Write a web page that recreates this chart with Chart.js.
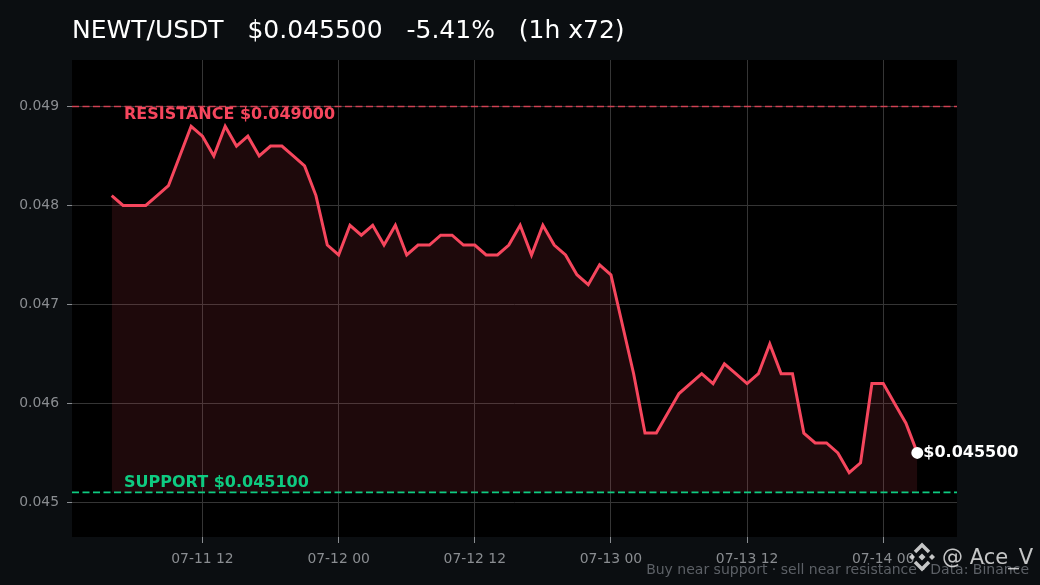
<!DOCTYPE html>
<html>
<head>
<meta charset="utf-8">
<script src="https://cdn.jsdelivr.net/npm/chart.js@4/dist/chart.umd.min.js"></script>
<style>
  html, body { margin: 0; padding: 0; background: #0b0e11; }
  canvas { display: block; }
</style>
</head>
<body>
<canvas id="chart" width="1040" height="585"></canvas>
<script>
/*
    NEWT/USDT hourly close, 72 candles, with support / resistance levels
*/

// hourly closes, first one is 07-11 04:00
const closes = [
    0.0481, 0.0480, 0.0480, 0.0480, 0.0481, 0.0482, 0.0485, 0.0488, 0.0487, 0.0485,
    0.0488, 0.0486, 0.0487, 0.0485, 0.0486, 0.0486, 0.0485, 0.0484, 0.0481, 0.0476,
    0.0475, 0.0478, 0.0477, 0.0478, 0.0476, 0.0478, 0.0475, 0.0476, 0.0476, 0.0477,
    0.0477, 0.0476, 0.0476, 0.0475, 0.0475, 0.0476, 0.0478, 0.0475, 0.0478, 0.0476,
    0.0475, 0.0473, 0.0472, 0.0474, 0.0473, 0.0468, 0.0463, 0.0457, 0.0457, 0.0459,
    0.0461, 0.0462, 0.0463, 0.0462, 0.0464, 0.0463, 0.0462, 0.0463, 0.0466, 0.0463,
    0.0463, 0.0457, 0.0456, 0.0456, 0.0455, 0.0453, 0.0454, 0.0462, 0.0462, 0.0460,
    0.0458, 0.0455
];

// x ticks: candle index -> label
const tickIndex = [8, 20, 32, 44, 56, 68];
const tickLabels = ["07-11 12", "07-12 00", "07-12 12", "07-13 00", "07-13 12", "07-14 00"];

// y ticks
const priceTicks = [0.045, 0.046, 0.047, 0.048, 0.049];

const resistance = 0.049;
const support = 0.0451;
const lastPrice = 0.0455;

const titleText = "NEWT/USDT   $0.045500   -5.41%   (1h x72)";
const footerText = "Buy near support \u00b7 sell near resistance \u00b7 Data: Binance";
const watermarkText = "@ Ace_V";

const RED = "#f6465d";
const GREEN = "#0ecb81";
const FONT = "'DejaVu Sans', sans-serif";

const points = closes.map((v, i) => ({ x: i, y: v }));

/*
    backdrop: page colour, black plot area, title
*/
const backdrop = {
    id: "backdrop",
    beforeDraw(chart) {
        const { ctx, chartArea: a } = chart;
        ctx.save();
        ctx.fillStyle = "#0b0e11";
        ctx.fillRect(0, 0, chart.width, chart.height);
        ctx.fillStyle = "#000000";
        ctx.fillRect(a.left, a.top, a.right - a.left, a.bottom - a.top);
        ctx.fillStyle = "#ffffff";
        ctx.font = "25px " + FONT;
        ctx.textBaseline = "middle";
        ctx.textAlign = "left";
        ctx.fillText(titleText, 72, 31);
        ctx.restore();
    }
};

/*
    levels: dashed support / resistance, their labels, last price marker,
    footer and watermark
*/
const levels = {
    id: "levels",
    afterDatasetsDraw(chart) {
        const { ctx, chartArea: a, scales } = chart;
        const y = scales.y, x = scales.x;
        ctx.save();

        // dashed levels
        ctx.lineWidth = 1.7;
        ctx.setLineDash([7, 3.5]);
        [[resistance, "rgba(246,70,93,0.8)"], [support, GREEN]].forEach(([v, c]) => {
            const py = y.getPixelForValue(v);
            ctx.strokeStyle = c;
            ctx.beginPath();
            ctx.moveTo(a.left, py);
            ctx.lineTo(a.right, py);
            ctx.stroke();
        });
        ctx.setLineDash([]);

        ctx.font = "bold 16px " + FONT;
        ctx.textAlign = "left";
        ctx.textBaseline = "middle";
        ctx.fillStyle = RED;
        ctx.fillText("RESISTANCE $" + resistance.toFixed(6), 124, y.getPixelForValue(resistance) + 8);
        ctx.fillStyle = GREEN;
        ctx.fillText("SUPPORT $" + support.toFixed(6), 124, y.getPixelForValue(support) - 10);

        // last price
        const lx = x.getPixelForValue(closes.length - 1);
        const ly = y.getPixelForValue(lastPrice);
        ctx.fillStyle = "#ffffff";
        ctx.beginPath();
        ctx.arc(lx, ly, 6, 0, Math.PI * 2);
        ctx.fill();
        ctx.font = "bold 16px " + FONT;
        ctx.fillText("$" + lastPrice.toFixed(6), lx + 6, ly);

        ctx.restore();
    },
    afterDraw(chart) {
        const { ctx } = chart;
        ctx.save();
        // footer
        ctx.font = "14px " + FONT;
        ctx.fillStyle = "#5c6066";
        ctx.textAlign = "right";
        ctx.textBaseline = "middle";
        ctx.fillText(footerText, 1029, 570);

        // watermark: binance-ish logo + handle
        ctx.globalAlpha = 0.85;
        ctx.fillStyle = "#e6e6e6";
        ctx.strokeStyle = "#e6e6e6";
        const cx = 922, cy = 557;
        const diamond = (dx, dy, r) => {
            ctx.beginPath();
            ctx.moveTo(cx + dx, cy + dy - r);
            ctx.lineTo(cx + dx + r, cy + dy);
            ctx.lineTo(cx + dx, cy + dy + r);
            ctx.lineTo(cx + dx - r, cy + dy);
            ctx.closePath();
            ctx.fill();
        };
        ctx.lineWidth = 3.5;
        diamond(0, 0, 3.5);
        diamond(-10, 0, 3);
        diamond(10, 0, 3);
        // chevrons top and bottom
        ctx.beginPath();
        ctx.moveTo(cx - 7, cy - 5); ctx.lineTo(cx, cy - 12); ctx.lineTo(cx + 7, cy - 5);
        ctx.moveTo(cx - 7, cy + 5); ctx.lineTo(cx, cy + 12); ctx.lineTo(cx + 7, cy + 5);
        ctx.stroke();

        ctx.font = "21px " + FONT;
        ctx.textAlign = "left";
        ctx.fillText(watermarkText, 942, 559);
        ctx.restore();
    }
};

new Chart("chart", {
    type: "line",
    data: {
        datasets: [{
            data: points,
            borderColor: RED,
            borderWidth: 3,
            backgroundColor: "rgba(246,70,93,0.12)",
            fill: { value: support },
            pointRadius: 0,
            tension: 0
        }]
    },
    options: {
        responsive: false,
        animation: false,
        devicePixelRatio: 1,
        layout: { padding: { top: 60, right: 83, left: 0, bottom: 0 } },
        plugins: {
            legend: { display: false },
            tooltip: { enabled: false }
        },
        scales: {
            x: {
                type: "linear",
                min: -3.5,
                max: 74.5,
                afterBuildTicks: (s) => { s.ticks = tickIndex.map(v => ({ value: v })); },
                afterFit: (s) => { s.height = 48; },
                ticks: {
                    autoSkip: false,
                    maxRotation: 0,
                    padding: 8,
                    color: "#8a8d91",
                    font: { family: FONT, size: 13.9 },
                    callback: (v) => tickLabels[tickIndex.indexOf(v)]
                },
                grid: { color: "#353535", tickColor: "#8a8d91", tickLength: 6, lineWidth: 1 },
                border: { display: false }
            },
            y: {
                min: 0.04465,
                max: 0.04947,
                afterBuildTicks: (s) => { s.ticks = priceTicks.map(v => ({ value: v })); },
                afterFit: (s) => { s.width = 72; },
                ticks: {
                    padding: 8,
                    color: "#8a8d91",
                    font: { family: FONT, size: 13.9 },
                    callback: (v) => v.toFixed(3)
                },
                grid: { color: "#353535", tickColor: "#8a8d91", tickLength: 5, lineWidth: 1 },
                border: { display: false }
            }
        }
    },
    plugins: [backdrop, levels]
});
</script>
</body>
</html>
